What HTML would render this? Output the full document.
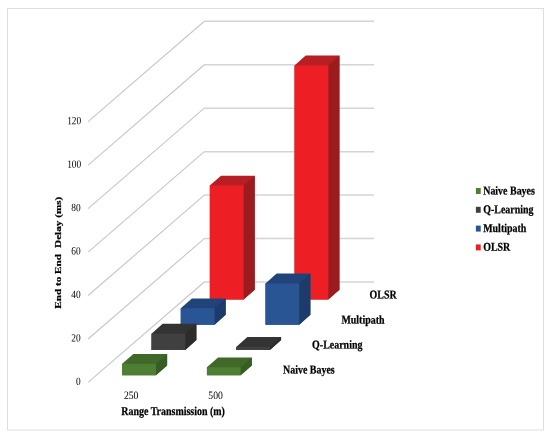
<!DOCTYPE html>
<html lang="en">
<head>
<meta charset="utf-8">
<title>End to End Delay vs Range Transmission</title>
<style>
html,body{margin:0;padding:0;background:#ffffff;}
body{width:550px;height:440px;overflow:hidden;font-family:"Liberation Serif","Times New Roman",serif;}
svg{display:block;filter:blur(0.4px);}
</style>
</head>
<body>
<svg width="550" height="440" viewBox="0 0 550 440">
<rect x="0" y="0" width="550" height="440" fill="#ffffff"/>
<rect x="7.5" y="8.5" width="536" height="421.5" fill="none" stroke="#dedede" stroke-width="1"/>
<g fill="none" stroke="#c6c6c6" stroke-width="1.1"><line x1="88.10" y1="382.45" x2="204.60" y2="281.79"/><line x1="88.10" y1="338.98" x2="204.60" y2="238.32"/><line x1="88.10" y1="295.52" x2="204.60" y2="194.86"/><line x1="88.10" y1="252.05" x2="204.60" y2="151.39"/><line x1="88.10" y1="208.58" x2="204.60" y2="107.92"/><line x1="88.10" y1="165.12" x2="204.60" y2="64.46"/><line x1="88.10" y1="121.65" x2="204.60" y2="20.99"/></g>
<g fill="none" stroke="#d4d4d4" stroke-width="1.5"><line x1="204.30" y1="282.05" x2="374.10" y2="282.05"/><line x1="204.30" y1="238.58" x2="374.10" y2="238.58"/><line x1="204.30" y1="195.12" x2="374.10" y2="195.12"/><line x1="204.30" y1="151.65" x2="374.10" y2="151.65"/><line x1="204.30" y1="108.18" x2="374.10" y2="108.18"/><line x1="204.30" y1="64.72" x2="374.10" y2="64.72"/><line x1="204.30" y1="21.25" x2="374.10" y2="21.25"/></g>
<g shape-rendering="geometricPrecision"><polygon points="209.82,299.60 209.82,185.60 220.97,175.70 254.72,175.70 254.72,289.70 243.57,299.60" fill="#b71f25"/><polygon points="243.57,185.60 254.72,175.70 254.72,289.70 243.57,299.60" fill="#9b1b1f"/><polygon points="209.82,299.60 209.82,185.60 243.57,185.60 243.57,299.60" fill="#ed1f24"/><polygon points="294.52,299.60 294.52,65.40 305.67,55.50 339.42,55.50 339.42,289.70 328.27,299.60" fill="#b71f25"/><polygon points="328.27,65.40 339.42,55.50 339.42,289.70 328.27,299.60" fill="#9b1b1f"/><polygon points="294.52,299.60 294.52,65.40 328.27,65.40 328.27,299.60" fill="#ed1f24"/><polygon points="180.77,324.70 180.77,308.30 191.92,298.40 225.67,298.40 225.67,314.80 214.52,324.70" fill="#20447a"/><polygon points="214.52,308.30 225.67,298.40 225.67,314.80 214.52,324.70" fill="#1c3b6a"/><polygon points="180.77,324.70 180.77,308.30 214.52,308.30 214.52,324.70" fill="#2a5595"/><polygon points="265.47,324.70 265.47,283.50 276.62,273.60 310.37,273.60 310.37,314.80 299.22,324.70" fill="#20447a"/><polygon points="299.22,283.50 310.37,273.60 310.37,314.80 299.22,324.70" fill="#1c3b6a"/><polygon points="265.47,324.70 265.47,283.50 299.22,283.50 299.22,324.70" fill="#2a5595"/><polygon points="151.49,350.00 151.49,333.70 162.64,323.80 196.39,323.80 196.39,340.10 185.24,350.00" fill="#333333"/><polygon points="185.24,333.70 196.39,323.80 196.39,340.10 185.24,350.00" fill="#2c2c2c"/><polygon points="151.49,350.00 151.49,333.70 185.24,333.70 185.24,350.00" fill="#404040"/><polygon points="236.19,350.00 236.19,347.00 247.34,337.10 281.09,337.10 281.09,340.10 269.94,350.00" fill="#333333"/><polygon points="269.94,347.00 281.09,337.10 281.09,340.10 269.94,350.00" fill="#2c2c2c"/><polygon points="236.19,350.00 236.19,347.00 269.94,347.00 269.94,350.00" fill="#404040"/><polygon points="122.21,375.30 122.21,363.80 133.36,353.90 167.11,353.90 167.11,365.40 155.96,375.30" fill="#3f6829"/><polygon points="155.96,363.80 167.11,353.90 167.11,365.40 155.96,375.30" fill="#385d24"/><polygon points="122.21,375.30 122.21,363.80 155.96,363.80 155.96,375.30" fill="#4e7e32"/><polygon points="206.91,375.30 206.91,367.30 218.06,357.40 251.81,357.40 251.81,365.40 240.66,375.30" fill="#3f6829"/><polygon points="240.66,367.30 251.81,357.40 251.81,365.40 240.66,375.30" fill="#385d24"/><polygon points="206.91,375.30 206.91,367.30 240.66,367.30 240.66,375.30" fill="#4e7e32"/></g>
<g font-family="'Liberation Serif', 'Times New Roman', serif" fill="#000000"><text transform="translate(80.60,385.00) scale(0.845,1) rotate(0.05)" text-anchor="end" font-size="11.1">0</text><text transform="translate(80.60,341.53) scale(0.845,1) rotate(0.05)" text-anchor="end" font-size="11.1">20</text><text transform="translate(80.60,298.07) scale(0.845,1) rotate(0.05)" text-anchor="end" font-size="11.1">40</text><text transform="translate(80.60,254.60) scale(0.845,1) rotate(0.05)" text-anchor="end" font-size="11.1">60</text><text transform="translate(80.60,211.13) scale(0.845,1) rotate(0.05)" text-anchor="end" font-size="11.1">80</text><text transform="translate(81.20,167.67) scale(0.845,1) rotate(0.05)" text-anchor="end" font-size="11.1">100</text><text transform="translate(81.20,124.20) scale(0.845,1) rotate(0.05)" text-anchor="end" font-size="11.1">120</text><text transform="translate(131.20,399.00) scale(0.855,1) rotate(0.05)" text-anchor="middle" font-size="11.3">250</text><text transform="translate(215.60,399.00) scale(0.855,1) rotate(0.05)" text-anchor="middle" font-size="11.3">500</text><text transform="translate(121.30,415.00) scale(0.83,1) rotate(0.05)" text-anchor="start" font-size="12" font-weight="bold" stroke="#000" stroke-width="0.25">Range Transmission (m)</text><text transform="translate(61.1,308.8) scale(0.82,1) rotate(-90)" font-size="11.2" font-weight="bold" stroke="#000" stroke-width="0.25" xml:space="preserve" style="white-space:pre">End to End  <tspan dx="0.5">Delay (ms)</tspan></text><text transform="translate(369.60,298.50) scale(0.83,1) rotate(0.05)" text-anchor="start" font-size="12" font-weight="bold" stroke="#000" stroke-width="0.25">OLSR</text><text transform="translate(341.40,323.60) scale(0.83,1) rotate(0.05)" text-anchor="start" font-size="12" font-weight="bold" stroke="#000" stroke-width="0.25">Multipath</text><text transform="translate(312.10,348.50) scale(0.83,1) rotate(0.05)" text-anchor="start" font-size="12" font-weight="bold" stroke="#000" stroke-width="0.25">Q-Learning</text><text transform="translate(283.00,373.40) scale(0.83,1) rotate(0.05)" text-anchor="start" font-size="12" font-weight="bold" stroke="#000" stroke-width="0.25">Naive Bayes</text><rect x="475.9" y="188.00" width="4.8" height="6" fill="#4e7e32"/><text transform="translate(483.20,194.50) scale(0.83,1) rotate(0.05)" text-anchor="start" font-size="12" font-weight="bold" stroke="#000" stroke-width="0.25">Naive Bayes</text><rect x="475.9" y="206.80" width="4.8" height="6" fill="#404040"/><text transform="translate(483.20,213.30) scale(0.83,1) rotate(0.05)" text-anchor="start" font-size="12" font-weight="bold" stroke="#000" stroke-width="0.25">Q-Learning</text><rect x="475.9" y="225.60" width="4.8" height="6" fill="#2a5595"/><text transform="translate(483.20,231.90) scale(0.83,1) rotate(0.05)" text-anchor="start" font-size="12" font-weight="bold" stroke="#000" stroke-width="0.25">Multipath</text><rect x="475.9" y="244.40" width="4.8" height="6" fill="#ed1f24"/><text transform="translate(483.20,250.80) scale(0.83,1) rotate(0.05)" text-anchor="start" font-size="12" font-weight="bold" stroke="#000" stroke-width="0.25">OLSR</text></g>
</svg>
</body>
</html>
